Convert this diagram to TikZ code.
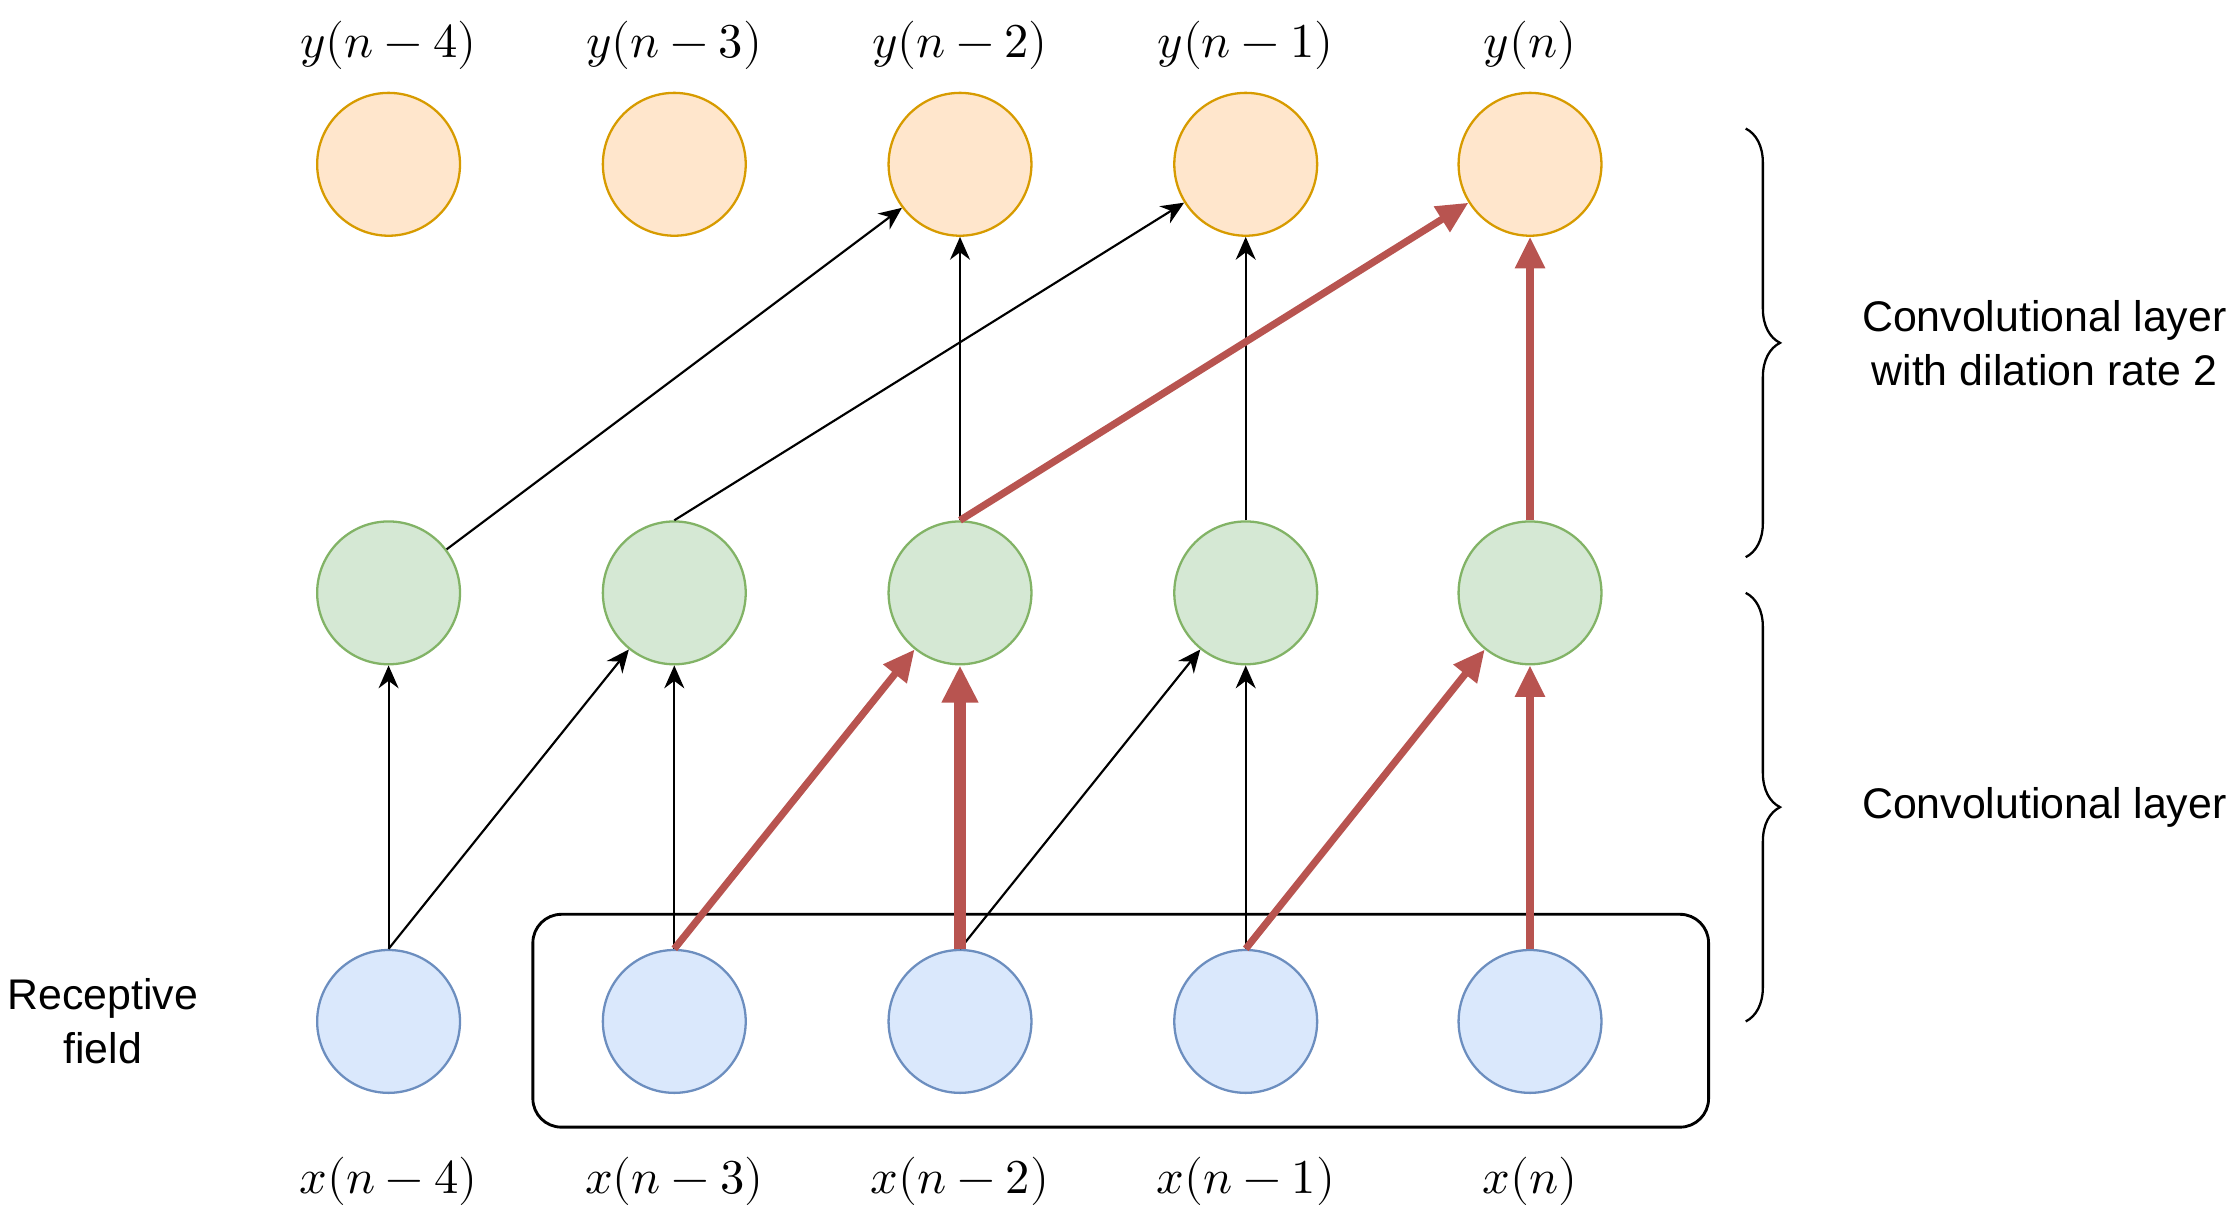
\documentclass[tikz,border=0pt]{standalone}
\usepackage{fontspec}
\setmainfont{Liberation Sans}
\usepackage{unicode-math}
\setmathfont{Latin Modern Math}
\usetikzlibrary{arrows.meta,decorations.pathreplacing}
\definecolor{ofill}{HTML}{FFE6CC}\definecolor{oline}{HTML}{D79B00}
\definecolor{gfill}{HTML}{D5E8D4}\definecolor{gline}{HTML}{82B366}
\definecolor{bfill}{HTML}{DAE8FC}\definecolor{bline}{HTML}{6C8EBF}
\definecolor{redA}{HTML}{B85450}
\begin{document}
\begin{tikzpicture}[x=0.5pt,y=-0.5pt,
  neu/.style={circle,minimum size=50pt,inner sep=0pt,line width=0.8pt},
  outn/.style={neu,fill=ofill,draw=oline},
  hidn/.style={neu,fill=gfill,draw=gline},
  inpn/.style={neu,fill=bfill,draw=bline},
  lab/.style={font=\fontsize{17}{20}\selectfont},
  blk/.style={line width=0.75pt,-{Stealth[length=8pt,width=7pt]}},
  rarr/.style={line width=2.5pt,draw=redA,-{Stealth[length=11pt,width=10pt,inset=0pt]},color=redA},
  rarrt/.style={line width=4pt,draw=redA,-{Stealth[length=13pt,width=12pt,inset=0pt]},color=redA},
  txt/.style={font=\fontsize{15}{19}\selectfont,align=center}]
\useasboundingbox (0,0) rectangle (1568,857);
\foreach \i/\x in {0/272,1/472,2/672,3/872,4/1071}{
  \node[outn] (y\i) at (\x,115) {};
  \node[hidn] (h\i) at (\x,415) {};
  \node[inpn] (x\i) at (\x,715) {};
}
\node[lab] (ly0) at (272,32) {$y(n-4)$};
\node[lab] (ly1) at (472,32) {$y(n-3)$};
\node[lab] (ly2) at (672,32) {$y(n-2)$};
\node[lab] (ly3) at (872,32) {$y(n-1)$};
\node[lab] (ly4) at (1071,32) {$y(n)$};
\node[lab] (lx0) at (272,827) {$x(n-4)$};
\node[lab] (lx1) at (472,827) {$x(n-3)$};
\node[lab] (lx2) at (672,827) {$x(n-2)$};
\node[lab] (lx3) at (872,827) {$x(n-1)$};
\node[lab] (lx4) at (1071,827) {$x(n)$};
\node[draw,line width=1pt,rounded corners=10pt,minimum width=411.5pt,minimum height=74.5pt] (box) at (784.5,714.5) {};
\draw[blk] (x0.north) -- (h0);
\draw[blk] (x0.north) -- (h1);
\draw[blk] (x1.north) -- (h1);
\draw[blk] (x2.north) -- (h3);
\draw[blk] (x3.north) -- (h3);
\draw[rarr] (x1.north) -- (h2);
\draw[rarrt] (x2.north) -- (h2);
\draw[rarr] (x3.north) -- (h4);
\draw[rarr] (x4.north) -- (h4);
\draw[blk] (h0) -- (y2);
\draw[blk] (h1.north) -- (y3);
\draw[blk] (h2.north) -- (y2);
\draw[blk] (h3.north) -- (y3);
\draw[rarr] (h2.north) -- (y4);
\draw[rarr] (h4.north) -- (y4);
\draw[line width=0.8pt,decorate,decoration={brace,amplitude=12pt}] (1222,90) -- (1222,390);
\draw[line width=0.8pt,decorate,decoration={brace,amplitude=12pt}] (1222,415) -- (1222,715);
\node[txt] (t1) at (1431,240) {Convolutional layer\\with dilation rate 2};
\node[txt] (t2) at (1431,565) {Convolutional layer};
\node[txt] (t3) at (72,715) {Receptive\\field};
\end{tikzpicture}
\end{document}
